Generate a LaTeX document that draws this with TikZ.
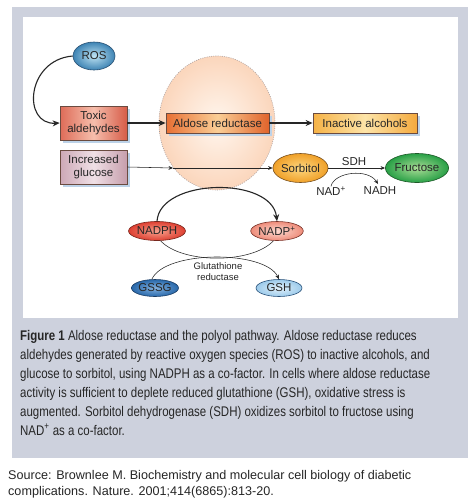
\documentclass[tikz,border=0pt]{standalone}
\usepackage{fontspec}
\setmainfont{Liberation Sans}
\newfontfamily\lbfam{Liberation Sans}
\newfontfamily\capfam[FakeStretch=0.82]{Liberation Sans}
\usetikzlibrary{shapes.geometric,arrows.meta,shadows}
\definecolor{panel}{HTML}{CDD1DD}
\definecolor{txt}{HTML}{262626}
\definecolor{boxedge}{HTML}{6A4B40}
\definecolor{shadowblue}{HTML}{BCD2E8}
\newcommand\lbf{\lbfam\fontsize{11.5}{13}\selectfont}
\newcommand\smf{\lbfam\fontsize{9.5}{11}\selectfont}
\tikzset{
  boxnode/.style={draw=boxedge, line width=0.7pt, inner sep=0pt, align=center,
    font=\lbf, text=txt,
    drop shadow={shadow xshift=2.5pt, shadow yshift=-2.5pt, fill=shadowblue, opacity=1}},
  oval/.style={ellipse, line width=0.6pt, inner sep=0pt, font=\lbf, text=txt},
  thickarr/.style={-{Stealth[length=7pt,width=6pt]}, line width=1.2pt, draw=txt},
  thinarr/.style={-{Stealth[length=4.5pt,width=3.8pt]}, line width=0.55pt, draw=txt},
  thinline/.style={line width=0.55pt, draw=txt},
  lbl/.style={font=\lbf, text=txt, inner sep=0pt},
  smlbl/.style={font=\smf, text=txt, inner sep=0pt, align=center},
}
\begin{document}
\begin{tikzpicture}[x=1pt,y=-1pt]
\useasboundingbox (0,0) rectangle (474,504);
\fill[white] (0,0) rectangle (474,504);
\fill[panel] (12,7) rectangle (468,458);
\fill[white] (23,17) rectangle (458,318);

% big enzyme circle
\node[ellipse, minimum width=116pt, minimum height=134pt, inner sep=0pt,
  inner color={rgb,255:red,255;green,246;blue,238}, outer color={rgb,255:red,251;green,214;blue,188},
  draw={rgb,255:red,165;green,155;blue,155}, line width=0.6pt,
  dash pattern=on 0.9pt off 1.3pt] (enz) at (217,123) {};

% nodes
\node[oval, minimum width=42pt, minimum height=28pt,
  inner color={rgb,255:red,190;green,226;blue,242}, outer color={rgb,255:red,62;green,132;blue,180},
  draw={rgb,255:red,40;green,80;blue,115}] (ros) at (94,56) {ROS};

\node[boxnode, minimum width=67pt, minimum height=34pt,
  left color={rgb,255:red,222;green,108;blue,88}, right color={rgb,255:red,214;green,92;blue,72},
  middle color={rgb,255:red,246;green,190;blue,172}] (tox) at (93.5,123) {Toxic\\aldehydes};

\node[boxnode, minimum width=103pt, minimum height=20pt,
  left color={rgb,255:red,232;green,112;blue,52}, right color={rgb,255:red,224;green,100;blue,44},
  middle color={rgb,255:red,250;green,206;blue,150}] (ar) at (217.5,123) {Aldose reductase};

\node[boxnode, minimum width=104pt, minimum height=20pt,
  left color={rgb,255:red,246;green,178;blue,70}, right color={rgb,255:red,244;green,170;blue,62},
  middle color={rgb,255:red,253;green,228;blue,168}] (ina) at (365,123) {Inactive alcohols};

\node[boxnode, minimum width=67pt, minimum height=34pt,
  left color={rgb,255:red,205;green,168;blue,182}, right color={rgb,255:red,198;green,158;blue,172},
  middle color={rgb,255:red,240;green,224;blue,230}] (glu) at (93.5,167) {Increased\\glucose};

\node[oval, minimum width=51pt, minimum height=29pt,
  inner color={rgb,255:red,252;green,216;blue,130}, outer color={rgb,255:red,240;green,160;blue,40},
  draw={rgb,255:red,120;green,80;blue,30}] (sor) at (300.5,168) {Sorbitol};

\node[oval, minimum width=60pt, minimum height=29pt,
  inner color={rgb,255:red,170;green,220;blue,150}, outer color={rgb,255:red,40;green,160;blue,70},
  draw={rgb,255:red,30;green,90;blue,40}] (fru) at (417,168) {Fructose};

\node[lbl] (sdh) at (354,162) {SDH};
\node[lbl] (nad) at (331,191) {NAD\textsuperscript{+}};
\node[lbl] (nadh) at (380,191) {NADH};

\node[oval, minimum width=51pt, minimum height=19pt,
  inner color={rgb,255:red,246;green,160;blue,140}, outer color={rgb,255:red,222;green,64;blue,50},
  draw={rgb,255:red,120;green,40;blue,30}] (nadph) at (157,231) {NADPH};

\node[oval, minimum width=51pt, minimum height=19pt,
  inner color={rgb,255:red,252;green,218;blue,208}, outer color={rgb,255:red,238;green,140;blue,122},
  draw={rgb,255:red,120;green,50;blue,40}] (nadp) at (277,231) {NADP\textsuperscript{+}};

\node[oval, minimum width=45pt, minimum height=17pt,
  inner color={rgb,255:red,130;green,176;blue,222}, outer color={rgb,255:red,40;green,104;blue,170},
  draw={rgb,255:red,25;green,60;blue,100}] (gssg) at (155,288) {GSSG};

\node[oval, minimum width=46pt, minimum height=17pt,
  inner color={rgb,255:red,226;green,242;blue,252}, outer color={rgb,255:red,156;green,202;blue,234},
  draw={rgb,255:red,40;green,80;blue,120}] (gsh) at (279,288) {GSH};

\node[smlbl] (grd) at (218,272) {Glutathione\\reductase};

% connectors
\draw[thickarr, line width=1.1pt] (ros.west) .. controls (26,60) and (22,125) .. (tox.west);
\draw[thickarr] (tox.east) -- (ar.west);
\draw[thickarr] (ar.east) -- (ina.west);
\coordinate (gmid) at (173,168);
\draw[thinarr] (glu.east) -- (gmid);
\draw[thinarr] (gmid) -- (sor.west);
\draw[thinarr] (sor.east) -- (fru.west);
\coordinate (nadtip) at (378,184);
\draw[thinarr] (nad.north) .. controls (334,172) and (368,168) .. (nadtip);
\draw[thickarr, line width=1.1pt] (nadph.north) .. controls (160,178) and (272,176) .. (nadp.north);
\draw[thinline] (nadph.290) .. controls (182,264) and (252,264) .. (nadp.250);
\draw[thinarr] (gssg.110) .. controls (165,250) and (265,250) .. (gsh.north);

% caption (base anchor = last line)
\node[anchor=base west, inner sep=0pt, align=left, text=txt,
  font=\capfam\fontsize{14}{19}\selectfont] (cap) at (20,435)
  {\textbf{Figure 1} Aldose reductase and the polyol pathway. Aldose reductase reduces\\
   aldehydes generated by reactive oxygen species (ROS) to inactive alcohols, and\\
   glucose to sorbitol, using NADPH as a co-factor. In cells where aldose reductase\\
   activity is sufficient to deplete reduced glutathione (GSH), oxidative stress is\\
   augmented. Sorbitol dehydrogenase (SDH) oxidizes sorbitol to fructose using\\
   NAD\textsuperscript{+} as a co-factor.};

\node[anchor=base west, inner sep=0pt, align=left, text=txt,
  font=\lbfam\fontsize{12.6}{16}\selectfont] (src) at (8,495)
  {Source: Brownlee M. Biochemistry and molecular cell biology of diabetic\\
   complications. Nature. 2001;414(6865):813-20.};
\end{tikzpicture}
\end{document}
